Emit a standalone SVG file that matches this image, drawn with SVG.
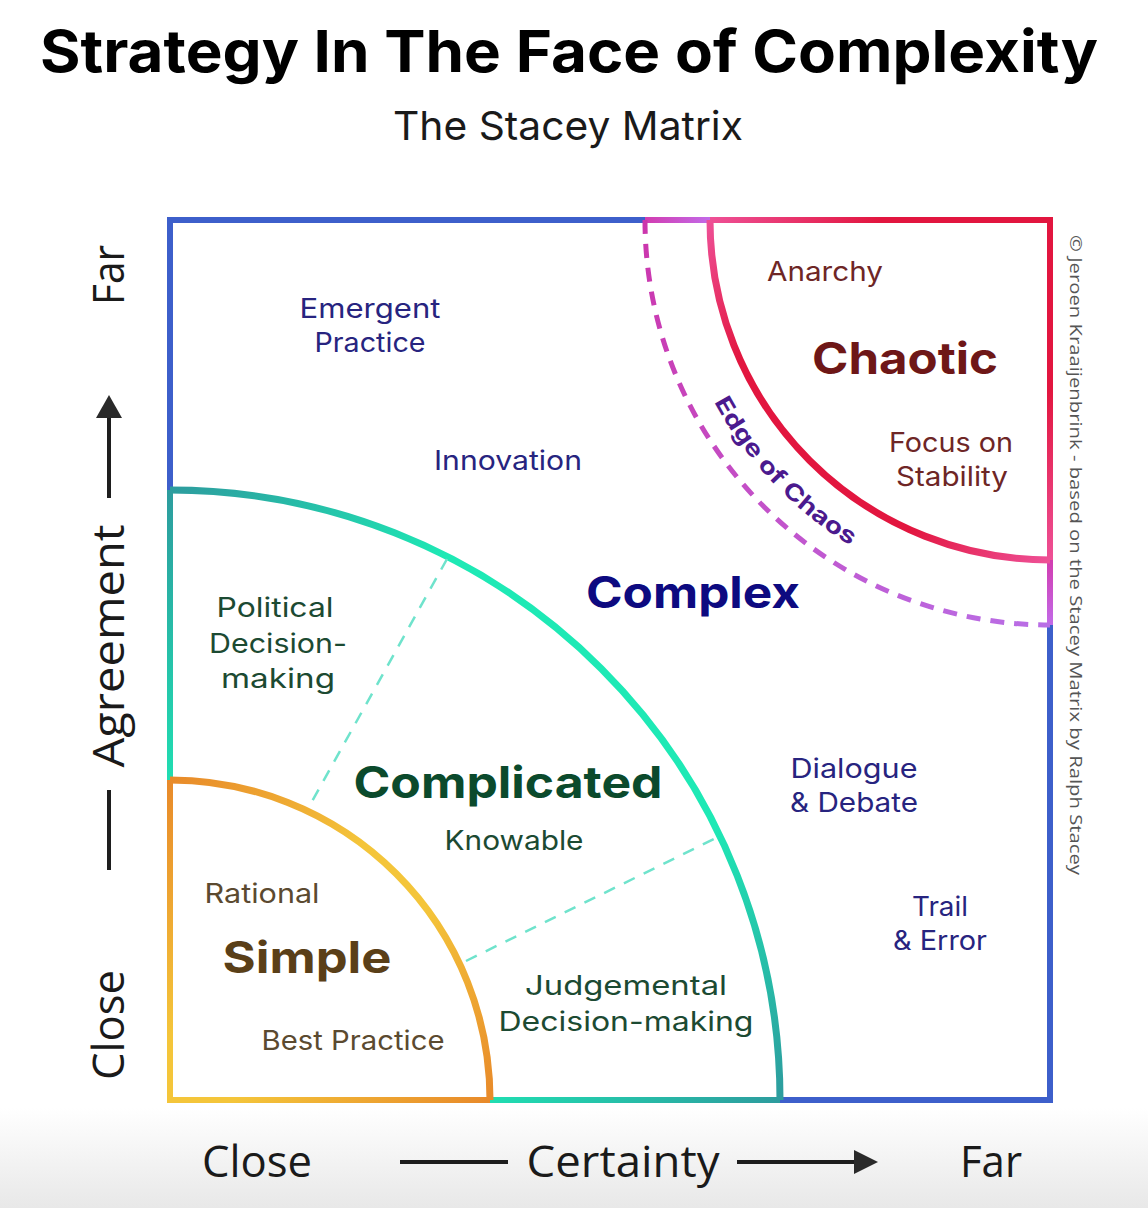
<svg xmlns="http://www.w3.org/2000/svg" width="1148" height="1208" viewBox="0 0 1148 1208">
<style>
  .t { font-family: Inter, "DejaVu Sans", sans-serif; text-anchor: middle; }
  .lbl { font-size: 27px; font-weight: 400; }
  .big { font-size: 44px; font-weight: 700; }
  .ax { font-family: "Open Sans", "Noto Sans", sans-serif; font-size: 44px; fill: #1a1a1a; text-anchor: middle; }
  .navy { fill: #27247f; }
  .cpx { fill: #0d0a80; }
  .red { fill: #6e2626; }
  .chao { fill: #6e1717; }
  .grn { fill: #1c4a32; }
  .cpl { fill: #0b4a2c; }
  .brn { fill: #5b4a30; }
  .smp { fill: #5a3f18; }
  .border { fill: none; stroke-width: 6; }
  .arc { fill: none; stroke-width: 7; }
  .div { fill: none; stroke: #6fe3cc; stroke-width: 2.5; stroke-dasharray: 12 10; }
  .axl { stroke: #1e1e1e; stroke-width: 4; fill: none; }
</style>
<defs>
  <linearGradient id="gBg" x1="0" y1="0" x2="0" y2="1">
    <stop offset="0" stop-color="#ffffff"/><stop offset="1" stop-color="#e8e8e8"/>
  </linearGradient>
  <linearGradient id="gRed" gradientUnits="userSpaceOnUse" x1="710" y1="220" x2="1050" y2="560">
    <stop offset="0" stop-color="#ee5096"/><stop offset="0.25" stop-color="#e2163f"/><stop offset="0.75" stop-color="#e2163f"/><stop offset="1" stop-color="#ee5096"/>
  </linearGradient>
  <linearGradient id="gPurpH" gradientUnits="userSpaceOnUse" x1="645" y1="0" x2="710" y2="0">
    <stop offset="0" stop-color="#d23cb0"/><stop offset="1" stop-color="#c26ae8"/>
  </linearGradient>
  <linearGradient id="gPurpV" gradientUnits="userSpaceOnUse" x1="0" y1="560" x2="0" y2="625">
    <stop offset="0" stop-color="#d23cb0"/><stop offset="1" stop-color="#c26ae8"/>
  </linearGradient>
  <linearGradient id="gDash" gradientUnits="userSpaceOnUse" x1="645" y1="220" x2="1050" y2="625">
    <stop offset="0" stop-color="#cc35ac"/><stop offset="1" stop-color="#b96ee6"/>
  </linearGradient>
  <linearGradient id="gGreen" gradientUnits="userSpaceOnUse" x1="170" y1="490" x2="780" y2="1100">
    <stop offset="0" stop-color="#2d9c9e"/><stop offset="0.28" stop-color="#1ee9b5"/><stop offset="0.72" stop-color="#1ee9b5"/><stop offset="1" stop-color="#2d9c9e"/>
  </linearGradient>
  <linearGradient id="gOrange" gradientUnits="userSpaceOnUse" x1="170" y1="780" x2="490" y2="1100">
    <stop offset="0" stop-color="#e88a2a"/><stop offset="0.4" stop-color="#f4c53a"/><stop offset="0.6" stop-color="#f4c53a"/><stop offset="1" stop-color="#e88a2a"/>
  </linearGradient>
  <path id="edgePath" d="M668 220 A382 382 0 0 0 1050 602"/>
</defs>

<rect x="0" y="0" width="1148" height="1208" fill="#ffffff"/>
<rect x="0" y="1108" width="1148" height="100" fill="url(#gBg)"/>

<g id="title">
  <text class="t" x="569" y="72" font-size="58" font-weight="700" fill="#000" textLength="1058" lengthAdjust="spacingAndGlyphs">Strategy In The Face of Complexity</text>
  <text class="t" x="568" y="140" font-size="40" fill="#1a1a1a" textLength="350" lengthAdjust="spacingAndGlyphs">The Stacey Matrix</text>
</g>

<g id="frame">
  <path class="border" stroke="#3d5fcb" d="M170 490 V220 H645"/>
  <path class="border" stroke="url(#gPurpH)" d="M645 220 H710"/>
  <path class="border" stroke="url(#gRed)" d="M710 220 H1050 V560"/>
  <path class="border" stroke="url(#gPurpV)" d="M1050 560 V625"/>
  <path class="border" stroke="#3d5fcb" d="M1050 625 V1100 H780"/>
  <path class="border" stroke="url(#gGreen)" d="M170 490 V780"/>
  <path class="border" stroke="url(#gGreen)" d="M490 1100 H780"/>
  <path class="border" stroke="url(#gOrange)" d="M170 780 V1100 H490"/>
</g>

<g id="complex">
  <text class="t lbl navy" x="370" y="318" textLength="141" lengthAdjust="spacingAndGlyphs">Emergent</text>
  <text class="t lbl navy" x="370" y="352" textLength="111" lengthAdjust="spacingAndGlyphs">Practice</text>
  <text class="t lbl navy" x="508" y="470" textLength="148" lengthAdjust="spacingAndGlyphs">Innovation</text>
  <text class="t big cpx" x="693" y="608" textLength="214" lengthAdjust="spacingAndGlyphs">Complex</text>
  <text class="t lbl navy" x="854" y="778" textLength="127" lengthAdjust="spacingAndGlyphs">Dialogue</text>
  <text class="t lbl navy" x="854" y="812" textLength="128" lengthAdjust="spacingAndGlyphs">&amp; Debate</text>
  <text class="t lbl navy" x="940" y="916" textLength="56" lengthAdjust="spacingAndGlyphs">Trail</text>
  <text class="t lbl navy" x="940" y="950" textLength="94" lengthAdjust="spacingAndGlyphs">&amp; Error</text>
</g>

<g id="chaotic">
  <path class="arc" stroke="url(#gRed)" d="M710 220 A340 340 0 0 0 1050 560"/>
  <text class="t lbl red" x="825" y="281" textLength="116" lengthAdjust="spacingAndGlyphs">Anarchy</text>
  <text class="t big chao" x="905" y="374" textLength="186" lengthAdjust="spacingAndGlyphs">Chaotic</text>
  <text class="t lbl red" x="951" y="452" textLength="124" lengthAdjust="spacingAndGlyphs">Focus on</text>
  <text class="t lbl red" x="952" y="486" textLength="112" lengthAdjust="spacingAndGlyphs">Stability</text>
</g>

<g id="edge-of-chaos">
  <path fill="none" stroke="url(#gDash)" stroke-width="5" stroke-dasharray="14 10" d="M645 220 A405 405 0 0 0 1050 625"/>
  <text font-family="Inter, 'DejaVu Sans', sans-serif" font-size="23" font-weight="700" fill="#4b1a8e" text-anchor="middle">
    <textPath href="#edgePath" startOffset="48.3%" textLength="200" lengthAdjust="spacingAndGlyphs">Edge of Chaos</textPath>
  </text>
</g>

<g id="complicated">
  <path class="arc" stroke="url(#gGreen)" d="M170 490 A610 610 0 0 1 780 1100"/>
  <text class="t lbl grn" x="275" y="617" textLength="117" lengthAdjust="spacingAndGlyphs">Political</text>
  <text class="t lbl grn" x="278" y="653" textLength="138" lengthAdjust="spacingAndGlyphs">Decision-</text>
  <text class="t lbl grn" x="278" y="688" textLength="114" lengthAdjust="spacingAndGlyphs">making</text>
  <text class="t big cpl" x="508" y="798" textLength="309" lengthAdjust="spacingAndGlyphs">Complicated</text>
  <text class="t lbl grn" x="514" y="850" textLength="139" lengthAdjust="spacingAndGlyphs">Knowable</text>
  <text class="t lbl grn" x="626" y="995" textLength="202" lengthAdjust="spacingAndGlyphs">Judgemental</text>
  <text class="t lbl grn" x="626" y="1031" textLength="255" lengthAdjust="spacingAndGlyphs">Decision-making</text>
</g>

<g id="simple">
  <path class="arc" stroke="url(#gOrange)" d="M170 780 A320 320 0 0 1 490 1100"/>
  <text class="t lbl brn" x="262" y="903" textLength="115" lengthAdjust="spacingAndGlyphs">Rational</text>
  <text class="t big smp" x="307" y="973" textLength="169" lengthAdjust="spacingAndGlyphs">Simple</text>
  <text class="t lbl brn" x="353" y="1050" textLength="183" lengthAdjust="spacingAndGlyphs">Best Practice</text>
</g>

<g id="connectors">
  <path class="div" d="M447 559 L310 805"/>
  <path class="div" d="M466 961 L718 837"/>
  <path class="axl" d="M109 498 V415"/>
  <polygon points="109,395 96,418 122,418" fill="#2a2a2a"/>
  <path class="axl" d="M109 790 V870"/>
  <path class="axl" d="M400 1162 H508"/>
  <path class="axl" d="M737 1162 H856"/>
  <polygon points="878,1162 854,1150 854,1174" fill="#2a2a2a"/>
</g>

<g id="y-axis">
  <text class="ax" transform="translate(124,275) rotate(-90)" textLength="60" lengthAdjust="spacingAndGlyphs">Far</text>
  <text class="ax" transform="translate(124,646) rotate(-90)" textLength="243" lengthAdjust="spacingAndGlyphs">Agreement</text>
  <text class="ax" transform="translate(124,1025) rotate(-90)" textLength="110" lengthAdjust="spacingAndGlyphs">Close</text>
</g>

<g id="x-axis">
  <text class="ax" x="257" y="1177" textLength="110" lengthAdjust="spacingAndGlyphs">Close</text>
  <text class="ax" x="623" y="1177" textLength="193" lengthAdjust="spacingAndGlyphs">Certainty</text>
  <text class="ax" x="991" y="1177" textLength="62" lengthAdjust="spacingAndGlyphs">Far</text>
</g>

<g id="credit">
  <text transform="translate(1070,555) rotate(90)" font-family="'Open Sans', 'Noto Sans', sans-serif" font-size="17" fill="#555" text-anchor="middle" textLength="640" lengthAdjust="spacingAndGlyphs">© Jeroen Kraaijenbrink - based on the Stacey Matrix by Ralph Stacey</text>
</g>
</svg>
